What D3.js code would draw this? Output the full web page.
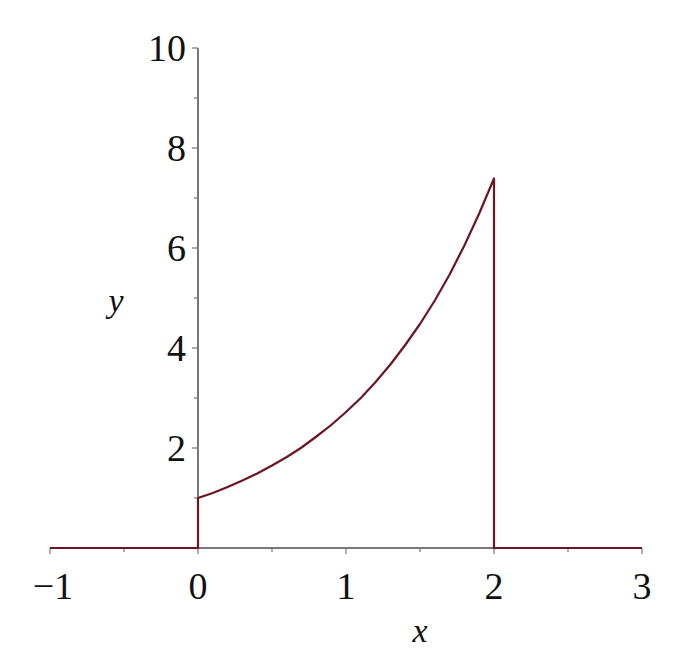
<!DOCTYPE html>
<html>
<head>
<meta charset="utf-8">
<script src="https://cdn.jsdelivr.net/npm/d3@7"></script>
<style>
  body { margin: 0; background: #fff; }
  text { font-family: "Liberation Serif", "DejaVu Serif", serif; fill: #111; }
</style>
</head>
<body>
<div id="chart"></div>
<script>
// values (piecewise: 0, then the rising curve on [0,2], then 0)
var xs = [-1, 0, 0, 0.1, 0.2, 0.3, 0.4, 0.5, 0.6, 0.7, 0.8, 0.9, 1.0,
          1.1, 1.2, 1.3, 1.4, 1.5, 1.6, 1.7, 1.8, 1.9, 2.0, 2.0, 3];
var ys = [0, 0, 1.0, 1.1, 1.22, 1.35, 1.49, 1.65, 1.82, 2.01, 2.23, 2.46, 2.72,
          3.0, 3.32, 3.67, 4.06, 4.48, 4.95, 5.47, 6.05, 6.69, 7.39, 0, 0];

var xTicks = [-1, 0, 1, 2, 3];
var xMinor = [-0.5, 0.5, 1.5, 2.5];
var yTicks = [2, 4, 6, 8, 10];
var yMinor = [1, 3, 5, 7, 9];

var width = 690, height = 668;

var svg = d3.select("#chart").append("svg")
    .attr("width", width)
    .attr("height", height);

var x = d3.scaleLinear().domain([-1, 3]).range([50, 642]);
var y = d3.scaleLinear().domain([0, 10]).range([548, 48]);

var axisColor = "#777";

// x axis
var gx = svg.append("g").attr("transform", "translate(0," + y(0) + ")");
gx.append("line")
    .attr("x1", x(-1)).attr("x2", x(3))
    .attr("stroke", axisColor).attr("stroke-width", 2);
gx.selectAll("line.major").data(xTicks).enter().append("line")
    .attr("class", "major")
    .attr("x1", function(d) { return x(d); }).attr("x2", function(d) { return x(d); })
    .attr("y1", 0).attr("y2", 6)
    .attr("stroke", axisColor).attr("stroke-width", 1.2);
gx.selectAll("line.minor").data(xMinor).enter().append("line")
    .attr("class", "minor")
    .attr("x1", function(d) { return x(d); }).attr("x2", function(d) { return x(d); })
    .attr("y1", 0).attr("y2", 4)
    .attr("stroke", axisColor).attr("stroke-width", 1.2);
gx.selectAll("text").data(xTicks).enter().append("text")
    .attr("x", function(d) { return x(d) + (d < 0 ? 3 : 0); })
    .attr("y", 51)
    .attr("text-anchor", "middle")
    .style("font-size", "38px")
    .text(function(d) { return d < 0 ? "\u2212" + Math.abs(d) : d; });

// y axis
var gy = svg.append("g").attr("transform", "translate(" + x(0) + ",0)");
gy.append("line")
    .attr("y1", y(0)).attr("y2", y(10))
    .attr("stroke", axisColor).attr("stroke-width", 2);
gy.selectAll("line.major").data(yTicks).enter().append("line")
    .attr("class", "major")
    .attr("y1", function(d) { return y(d); }).attr("y2", function(d) { return y(d); })
    .attr("x1", -6).attr("x2", 0)
    .attr("stroke", axisColor).attr("stroke-width", 1.2);
gy.selectAll("line.minor").data(yMinor).enter().append("line")
    .attr("class", "minor")
    .attr("y1", function(d) { return y(d); }).attr("y2", function(d) { return y(d); })
    .attr("x1", -4).attr("x2", 0)
    .attr("stroke", axisColor).attr("stroke-width", 1.2);
gy.selectAll("text").data(yTicks).enter().append("text")
    .attr("x", -12)
    .attr("y", function(d) { return y(d); })
    .attr("dy", "0.35em")
    .attr("text-anchor", "end")
    .style("font-size", "38px")
    .text(function(d) { return d; });

// axis labels
svg.append("text")
    .attr("x", x(1.5)).attr("y", 642)
    .attr("text-anchor", "middle")
    .style("font-size", "34px").style("font-style", "italic")
    .text("x");
svg.append("text")
    .attr("x", 116).attr("y", 312)
    .attr("text-anchor", "middle")
    .style("font-size", "34px").style("font-style", "italic")
    .text("y");

// the curve
var pts = xs.map(function(d, i) { return [d, ys[i]]; });
var line = d3.line()
    .x(function(d) { return x(d[0]); })
    .y(function(d) { return y(d[1]); })
    .curve(d3.curveLinear);

svg.append("path")
    .datum(pts)
    .attr("d", line)
    .attr("fill", "none")
    .attr("stroke", "#6e1423")
    .attr("stroke-width", 2.2)
    .attr("stroke-linejoin", "round");
</script>
</body>
</html>
